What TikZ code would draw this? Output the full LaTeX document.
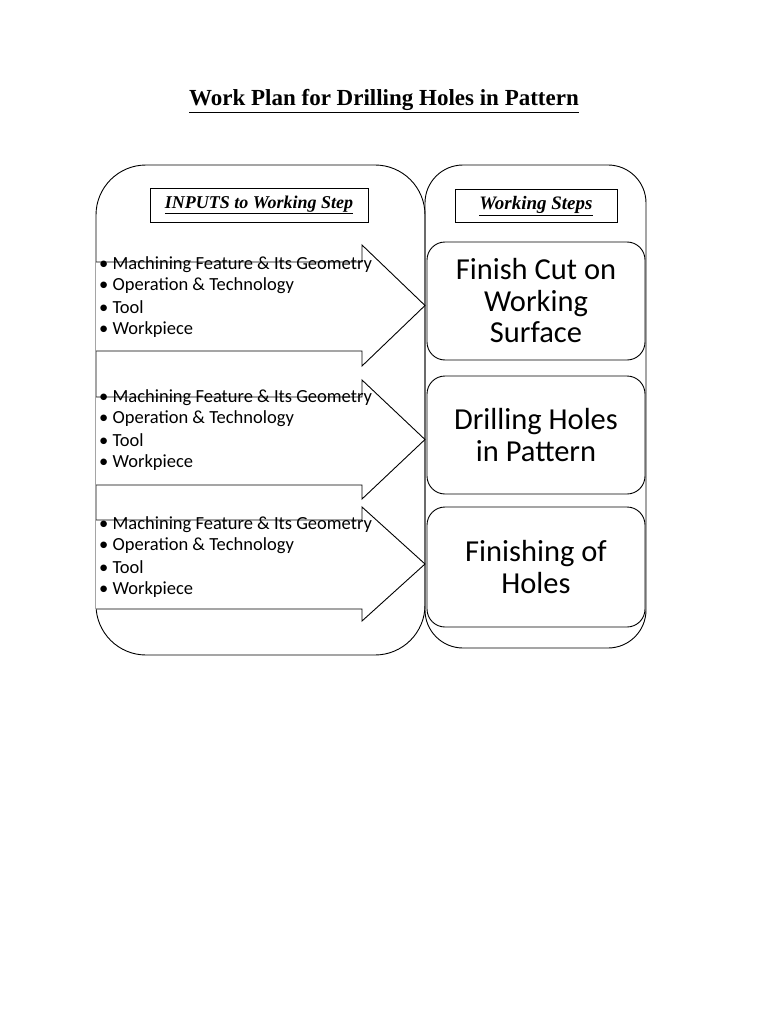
\documentclass[tikz,border=0pt]{standalone}
\usepackage{fontspec}
\setmainfont{Liberation Serif}
\newfontfamily\carlitofont{Carlito}
\begin{document}
\begin{tikzpicture}[x=1pt,y=-1pt,
  frame/.style={draw,line width=0.9pt},
  bul/.style={anchor=west,font=\carlitofont\fontsize{18.5}{19}\selectfont,inner sep=0pt},
  stepbox/.style={draw,line width=0.9pt,rounded corners=18pt,fill=white,minimum width=218pt,align=center,font=\carlitofont\fontsize{30.5}{31.5}\selectfont}]
\useasboundingbox (0,0) rectangle (768,1024);
\node (title) at (384,101) {\fontsize{23}{27}\selectfont\bfseries\underline{Work Plan for Drilling Holes in Pattern}};
\draw[frame,rounded corners=50pt] (96,165) rectangle (425,655);
\draw[frame,rounded corners=38pt] (425,165) rectangle (646,648);
\node[draw,line width=0.9pt,minimum width=218pt,minimum height=34pt] (inp) at (259,205) {\fontsize{18}{20}\selectfont\bfseries\itshape\underline{INPUTS to Working Step}};
\node[draw,line width=0.9pt,minimum width=162pt,minimum height=33pt] (ws) at (536,206) {\fontsize{19}{20}\selectfont\bfseries\itshape\underline{Working Steps}};
\node[stepbox,minimum height=118pt] (s1) at (536,301) {Finish Cut on\\Working\\Surface};
\node[stepbox,minimum height=118pt] (s2) at (536,435) {Drilling Holes\\in Pattern};
\node[stepbox,minimum height=120pt] (s3) at (536,567) {Finishing of\\Holes};
\foreach \t/\b/\ht/\hb/\ty/\n in {262/351/245/366/271/a,397/485/380/499/404/b,520/609/507/621/531/c}{
  \draw[frame,fill=white] (96,\t) -- (362,\t) -- (362,\ht) -- (425,{(\ht+\hb)/2}) -- (362,\hb) -- (362,\b) -- (96,\b);
  \node[bul] (\n1) at (99,\ty) {• Machining Feature \& Its Geometry};
  \node[bul] (\n2) at (99,\ty+21.5) {• Operation \& Technology};
  \node[bul] (\n3) at (99,\ty+43) {• Tool};
  \node[bul] (\n4) at (99,\ty+64.5) {• Workpiece};
}
\end{tikzpicture}
\end{document}
